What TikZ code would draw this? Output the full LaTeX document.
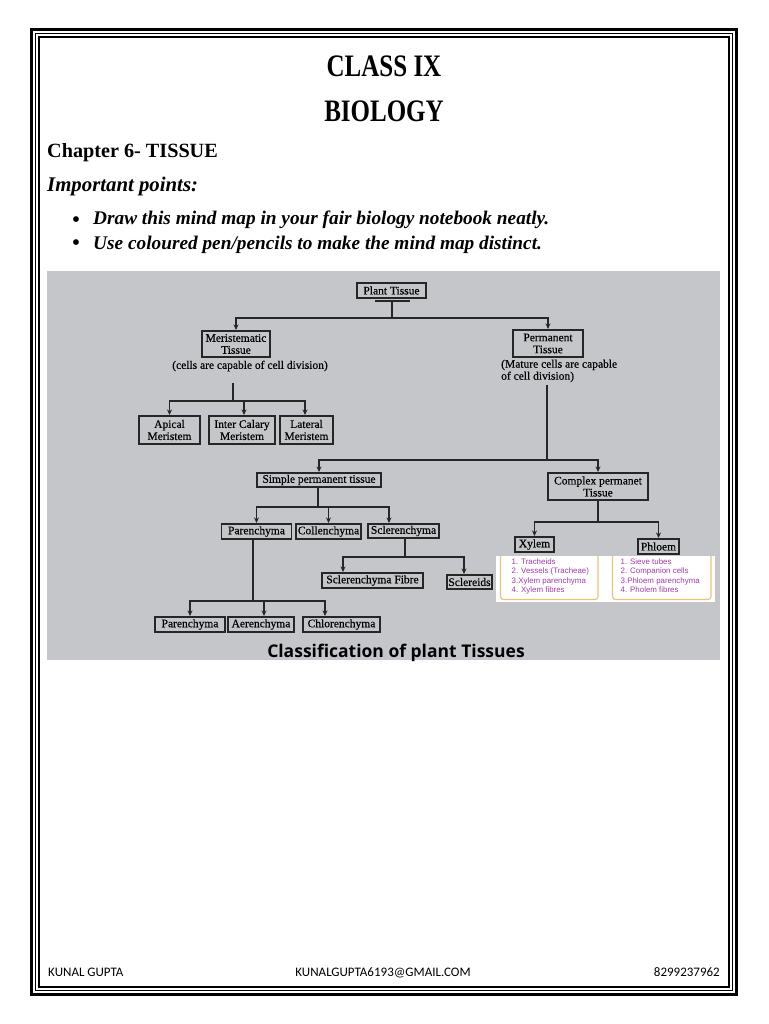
\documentclass[tikz,border=0pt]{standalone}
\usepackage{fontspec}
\setmainfont{Liberation Serif}
\newfontfamily\calib{Carlito}
\newfontfamily\osans{Open Sans}
\newfontfamily\arialf{Liberation Sans}
\newfontfamily\pfont[FakeBold=0.35]{Liberation Serif}
\usetikzlibrary{arrows.meta}
\definecolor{photo}{RGB}{197,198,202}
\definecolor{purp}{RGB}{160,60,170}
\definecolor{gold}{RGB}{232,196,120}
\newcommand{\dfont}{\pfont\fontsize{11.5}{12}\selectfont}
\tikzset{
  box/.style={draw=black!85, line width=1.1pt, fill=photo, inner sep=0pt, font=\dfont, align=center},
  wh/.style 2 args={minimum width=#1pt, minimum height=#2pt},
  ln/.style={line width=1.1pt, draw=black!85},
  arr/.style={ln, -{Stealth[length=5.5pt,width=5pt]}, shorten >=0.5pt},
  txt/.style={inner sep=0pt},
  info/.style={inner sep=0pt, text=purp, align=left, font=\arialf\fontsize{7.9}{9.4}\selectfont},
  frame/.style={draw=black}
}
\begin{document}
\begin{tikzpicture}[x=1pt,y=-1pt]
\useasboundingbox (0,0) rectangle (768,1024);
\fill[white] (0,0) rectangle (768,1024);
% page frame
\draw[frame, line width=3pt] (31.5,30) rectangle (736,994);
\draw[frame, line width=0.9pt] (35.2,33.7) rectangle (732.3,990.3);
\draw[frame, line width=2pt] (38.8,37.3) rectangle (728.7,986.7);
% header
\node[txt, anchor=base, font=\bfseries\fontsize{25}{28}\selectfont] (t1) at (384,77) {\scalebox{1}[1.25]{CLASS IX}};
\node[txt, anchor=base, font=\bfseries\fontsize{25}{28}\selectfont] (t2) at (384,122) {\scalebox{1}[1.25]{BIOLOGY}};
\node[txt, anchor=base west, font=\bfseries\fontsize{20.2}{22}\selectfont] (ch) at (47,158) {Chapter 6- TISSUE};
\node[txt, anchor=base west, font=\bfseries\itshape\fontsize{20.8}{22}\selectfont] (ip) at (47,192) {Important points:};
\node[txt, anchor=base, font=\fontsize{24}{24}\selectfont] (b1) at (76,227) {\textbullet};
\node[txt, anchor=base west, font=\bfseries\itshape\fontsize{19.3}{20}\selectfont] (l1) at (93,225) {Draw this mind map in your fair biology notebook neatly.};
\node[txt, anchor=base, font=\fontsize{24}{24}\selectfont] (b2) at (76,251) {\textbullet};
\node[txt, anchor=base west, font=\bfseries\itshape\fontsize{19.3}{20}\selectfont] (l2) at (93,249) {Use coloured pen/pencils to make the mind map distinct.};
% photo background
\fill[photo] (47,271) rectangle (720,660);
% boxes
\node[box, wh={69}{15}] (pt) at (391.5,290.5) {Plant Tissue};
\node[box, wh={68}{26}] (mer) at (236,344) {Meristematic\\Tissue};
\node[txt, font=\dfont] (mcap) at (250,366) {(cells are capable of cell division)};
\node[box, wh={70}{27}] (per) at (548,343.5) {Permanent\\Tissue};
\node[txt, font=\dfont, align=left, anchor=north west] (pcap) at (501,359.5) {(Mature cells are capable\\of cell division)};
\node[box, wh={61}{28}] (api) at (169.5,430) {Apical\\Meristem};
\node[box, wh={66}{28}] (int) at (242,430) {Inter Calary\\Meristem};
\node[box, wh={53}{28}] (lat) at (306.5,430) {Lateral\\Meristem};
\node[box, wh={124}{14}] (spt) at (319,480) {Simple permanent tissue};
\node[box, wh={100}{27}] (cpt) at (598,486.5) {Complex permanet\\Tissue};
\node[box, wh={70}{15}] (par) at (256.5,531.5) {Parenchyma};
\node[box, wh={65}{15}] (col) at (328.5,531.5) {Collenchyma};
\node[box, wh={71}{14}] (scl) at (403.5,531) {Sclerenchyma};
\node[box, wh={101}{15}] (sf) at (372.5,580.5) {Sclerenchyma Fibre};
\node[box, wh={45}{14}] (scd) at (469.5,582) {Sclereids};
\node[box, wh={70}{15}] (par2) at (190,624.5) {Parenchyma};
\node[box, wh={66}{15}] (aer) at (261,624.5) {Aerenchyma};
\node[box, wh={77}{15}] (chl) at (341.5,624.5) {Chlorenchyma};
\node[box, wh={39}{15}] (xyl) at (534.5,544.5) {Xylem};
\node[box, wh={41}{15}] (phl) at (658.5,546.5) {Phloem};
% connectors
\coordinate (u1) at (375,301);
\coordinate (u2) at (410,301);
\coordinate (u0) at (392,301);
\coordinate (j1) at (392,318);
\draw[ln] (u1) -- (u2);
\draw[ln] (u0) -- (j1);
\draw[arr] (j1) -| (mer.north);
\draw[arr] (j1) -| (per.north);
\coordinate (m1) at (233,383);
\coordinate (j2) at (233,401);
\draw[ln] (m1) -- (j2);
\draw[arr] (j2) -| (api.north);
\draw[arr] (j2) -| ([xshift=2pt]int.north);
\draw[arr] (j2) -| ([xshift=-1.5pt]lat.north);
\coordinate (p1) at (547,385);
\coordinate (j3) at (547,460);
\draw[ln] (p1) -- (j3);
\draw[arr] (j3) -| (spt.north);
\draw[arr] (j3) -| (cpt.north);
\coordinate (j4) at (318,507);
\draw[ln] (spt.south -| j4) -- (j4);
\draw[arr] (j4) -| (par.north);
\draw[arr] (j4) -| (col.north);
\draw[arr] (j4) -| ([xshift=-14.5pt]scl.north);
\coordinate (j5) at (405,557);
\draw[ln] (scl.south -| j5) -- (j5);
\draw[arr] (j5) -| ([xshift=-29.5pt]sf.north);
\draw[arr] (j5) -| ([xshift=-5.5pt]scd.north);
\coordinate (j6) at (253,601);
\draw[ln] (par.south -| j6) -- (j6);
\draw[arr] (j6) -| (par2.north);
\draw[arr] (j6) -| ([xshift=3pt]aer.north);
\draw[arr] (j6) -| ([xshift=-16.5pt]chl.north);
\coordinate (j7) at (598,522);
\draw[ln] (cpt.south) -- (j7);
\draw[arr] (j7) -| (xyl.north);
\draw[arr] (j7) -| (phl.north);
% info panel
\fill[white] (496,556) rectangle (715,602);
\draw[gold, line width=1.2pt, rounded corners=3pt] (500.5,556) -- (500.5,599.5) -- (598,599.5) -- (598,556);
\draw[gold, line width=1.2pt, rounded corners=3pt] (612.5,556) -- (612.5,599.5) -- (711,599.5) -- (711,556);
\node[info, anchor=north west] (xl) at (511.5,558.5) {1. Tracheids\\2. Vessels (Tracheae)\\3.Xylem parenchyma\\4. Xylem fibres};
\node[info, anchor=north west] (pl) at (620.5,558.5) {1. Sieve tubes\\2. Companion cells\\3.Phloem parenchyma\\4. Pholem fibres};
% caption
\node[txt, anchor=base, font=\osans\bfseries\fontsize{17.5}{20}\selectfont] (cap) at (396,657) {Classification of plant Tissues};
% footer
\node[txt, anchor=base west, font=\calib\fontsize{13}{15}\selectfont] (f1) at (48,976) {KUNAL GUPTA};
\node[txt, anchor=base, font=\calib\fontsize{13}{15}\selectfont] (f2) at (383,976) {KUNALGUPTA6193@GMAIL.COM};
\node[txt, anchor=base east, font=\calib\fontsize{13}{15}\selectfont] (f3) at (720,976) {8299237962};
\end{tikzpicture}
\end{document}
